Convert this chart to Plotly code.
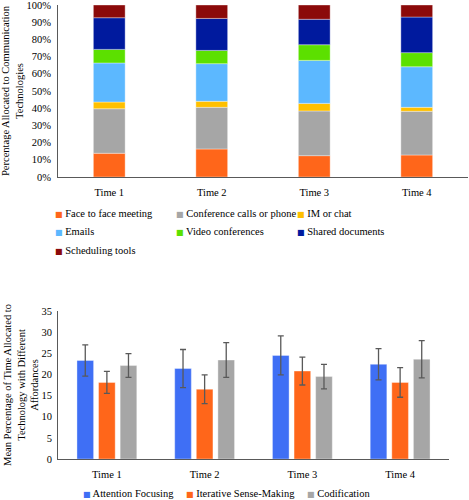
import numpy as np
import plotly.graph_objects as go

times = ["Time 1", "Time 2", "Time 3", "Time 4"]

# Top chart: share of communication technologies (percent)
tech_names = ["Face to face meeting", "Conference calls or phone", "IM or chat",
              "Emails", "Video conferences", "Shared documents", "Scheduling tools"]
face_to_face = [13.8, 16.3, 12.4, 12.8]
conference_calls = [25.9, 24.2, 26.0, 25.4]
im_chat = [3.9, 3.5, 4.4, 2.3]
emails = [22.7, 21.9, 25.0, 23.6]
video_conf = [7.9, 7.7, 9.1, 8.2]
shared_docs = [18.4, 18.6, 14.8, 20.7]
scheduling = [7.4, 7.8, 8.3, 7.0]
tech_colors = ["#FF661A", "#A6A6A6", "#FFC000", "#5CB8FF", "#5CE000", "#001A9E", "#8B0A0A"]

# Bottom chart: mean percentage by affordance, with error bars
aff_names = ["Attention Focusing", "Iterative Sense-Making", "Codification"]
attention_mean = [23.3, 21.4, 24.5, 22.4]
attention_err = [3.7, 4.5, 4.6, 3.7]
iterative_mean = [18.1, 16.5, 20.8, 18.1]
iterative_err = [2.6, 3.4, 3.3, 3.5]
codification_mean = [22.1, 23.4, 19.5, 23.6]
codification_err = [2.8, 4.1, 2.9, 4.4]
aff_colors = ["#3F6FF5", "#FF661A", "#A6A6A6"]

FONT = "Liberation Serif, Times New Roman, serif"
FS = 10.5
AXC = "#595959"

# legend rows (one legend per row) and entry widths (px)
tech_legend_row = ["legend", "legend", "legend", "legend3", "legend3", "legend3", "legend4"]
tech_lw = [76, 76, 110, 76, 76, 110, 110]
aff_lw = [58, 76, 90]


def legend_label(name, color):
    return ('<span style="color:%s;font-size:8px;font-family:DejaVu Sans">&#9632;</span> %s'
            % (color, name))


fig = go.Figure()

tech_series = [face_to_face, conference_calls, im_chat, emails, video_conf, shared_docs, scheduling]
base = np.zeros(len(times))
for name, vals, col, lg, lw in zip(tech_names, tech_series, tech_colors, tech_legend_row, tech_lw):
    v = np.array(vals, dtype=float)
    fig.add_trace(go.Bar(
        x=times, y=v, base=base.copy(), name=name, offsetgroup="stack",
        width=0.31, marker=dict(color=col, line=dict(color="rgba(255,255,255,0.6)", width=0.6)),
        xaxis="x", yaxis="y", showlegend=False))
    base = base + v
    fig.add_trace(go.Scatter(x=[None], y=[None], mode="none", name=legend_label(name, col),
                             xaxis="x", yaxis="y", legend=lg, showlegend=True,
                             legendwidth=lw, hoverinfo="skip"))

for name, m, e, col, lw in zip(aff_names, [attention_mean, iterative_mean, codification_mean],
                               [attention_err, iterative_err, codification_err], aff_colors, aff_lw):
    fig.add_trace(go.Bar(
        x=times, y=m, name=name,
        error_y=dict(type="data", array=e, visible=True, color=AXC, thickness=1.3, width=3),
        marker=dict(color=col, line=dict(color="rgba(255,255,255,0.6)", width=0.6)),
        xaxis="x2", yaxis="y2", showlegend=False))
    fig.add_trace(go.Scatter(x=[None], y=[None], mode="none", name=legend_label(name, col),
                             xaxis="x2", yaxis="y2", legend="legend2", showlegend=True,
                             legendwidth=lw, hoverinfo="skip"))

axis_common = dict(showline=True, linecolor=AXC, linewidth=1, ticks="", showgrid=False,
                   zeroline=False, automargin=False,
                   tickfont=dict(family=FONT, size=FS, color="#000"))

W = 468.0
H = 495.0


def px_x(p):
    return p / W


def px_y(p):
    return (500 - p) / H


legend_common = dict(orientation="h", xanchor="left", yanchor="top", traceorder="normal",
                     font=dict(family=FONT, size=FS), bgcolor="rgba(0,0,0,0)")

fig.update_layout(
    width=469, height=500,
    margin=dict(l=0, r=1, t=5, b=0, autoexpand=False),
    paper_bgcolor="white", plot_bgcolor="white",
    font=dict(family=FONT, size=FS, color="#000"),
    barmode="group", bargap=0.337, bargroupgap=0.23,
    xaxis=dict(domain=[px_x(58), 1], anchor="y", ticklabelstandoff=5, **axis_common),
    yaxis=dict(domain=[px_y(177), 1.0], anchor="x", range=[0, 100], dtick=10, ticksuffix="%",
               ticklabeloverflow="allow", ticklabelstandoff=4,
               title=dict(text="Percentage Allocated to Communication<br>Technologies",
                          font=dict(family=FONT, size=FS), standoff=1),
               **axis_common),
    xaxis2=dict(domain=[px_x(58), px_x(449)], anchor="y2", ticklabelstandoff=5, **axis_common),
    yaxis2=dict(domain=[px_y(459), px_y(311)], anchor="x2", range=[0, 35], dtick=5,
                ticklabelstandoff=3,
                title=dict(text="Mean Percentage of Time Allocated to<br>Technology with Different<br>Affordances",
                           font=dict(family=FONT, size=FS), standoff=0),
                **axis_common),
    legend=dict(x=px_x(15), y=px_y(198), **legend_common),
    legend3=dict(x=px_x(15), y=px_y(216), **legend_common),
    legend4=dict(x=px_x(15), y=px_y(235), **legend_common),
    legend2=dict(x=px_x(43), y=px_y(478), **legend_common),
)

fig.write_html("out.html", config={"displayModeBar": False},
               post_script="document.body.style.margin='0';")
